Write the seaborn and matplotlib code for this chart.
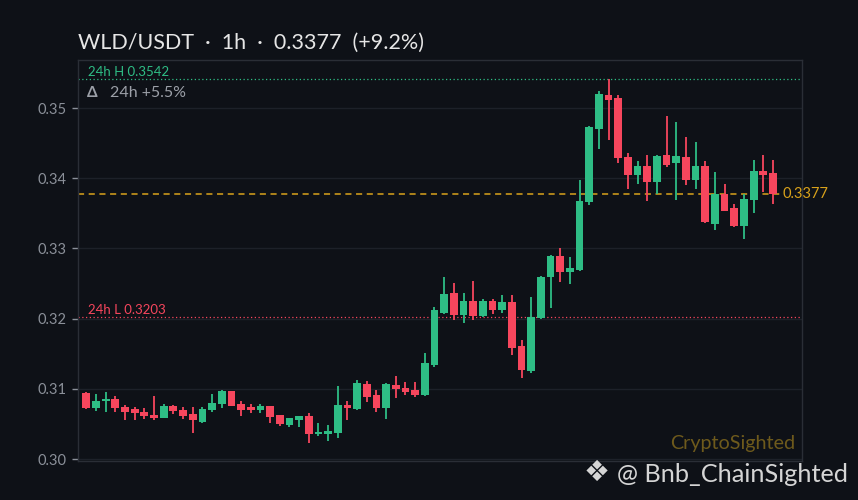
import numpy as np
import pandas as pd
import matplotlib
matplotlib.use("Agg")
import matplotlib.pyplot as plt
import seaborn as sns

# WLD/USDT 1h candles
opens = [0.3094, 0.3072, 0.3082, 0.3086, 0.3074, 0.3071, 0.3067, 0.3063, 0.3059, 0.3075,
         0.3070, 0.3064, 0.3053, 0.3070, 0.3079, 0.3097, 0.3078, 0.3074, 0.3070, 0.3075,
         0.3063, 0.3049, 0.3056, 0.3061, 0.3036, 0.3036, 0.3037, 0.3077, 0.3071, 0.3107,
         0.3091, 0.3073, 0.3105, 0.3101, 0.3098, 0.3091, 0.3134, 0.3208, 0.3236, 0.3205,
         0.3225, 0.3204, 0.3225, 0.3212, 0.3223, 0.3161, 0.3126, 0.3201, 0.3259, 0.3289,
         0.3266, 0.3269, 0.3366, 0.3470, 0.3519, 0.3514, 0.3430, 0.3405, 0.3417, 0.3395,
         0.3433, 0.3421, 0.3430, 0.3398, 0.3417, 0.3335, 0.3377, 0.3357, 0.3332, 0.3369,
         0.3410, 0.3407]
highs = [0.3095, 0.3093, 0.3095, 0.3090, 0.3077, 0.3074, 0.3072, 0.3090, 0.3078, 0.3077,
         0.3074, 0.3074, 0.3074, 0.3093, 0.3098, 0.3097, 0.3082, 0.3078, 0.3078, 0.3076,
         0.3063, 0.3058, 0.3061, 0.3066, 0.3051, 0.3048, 0.3104, 0.3083, 0.3113, 0.3111,
         0.3098, 0.3108, 0.3118, 0.3110, 0.3110, 0.3151, 0.3217, 0.3259, 0.3251, 0.3236,
         0.3254, 0.3228, 0.3228, 0.3233, 0.3233, 0.3170, 0.3231, 0.3261, 0.3291, 0.3300,
         0.3288, 0.3397, 0.3474, 0.3524, 0.3542, 0.3519, 0.3436, 0.3425, 0.3433, 0.3433,
         0.3488, 0.3480, 0.3459, 0.3452, 0.3424, 0.3409, 0.3392, 0.3363, 0.3377, 0.3426,
         0.3433, 0.3426]
lows = [0.3071, 0.3068, 0.3067, 0.3067, 0.3055, 0.3055, 0.3057, 0.3055, 0.3058, 0.3064,
        0.3057, 0.3037, 0.3051, 0.3067, 0.3073, 0.3076, 0.3061, 0.3066, 0.3066, 0.3052,
        0.3047, 0.3045, 0.3046, 0.3023, 0.3033, 0.3025, 0.3030, 0.3056, 0.3070, 0.3081,
        0.3067, 0.3057, 0.3087, 0.3091, 0.3088, 0.3090, 0.3131, 0.3207, 0.3198, 0.3194,
        0.3198, 0.3203, 0.3207, 0.3208, 0.3148, 0.3115, 0.3123, 0.3199, 0.3215, 0.3252,
        0.3249, 0.3268, 0.3362, 0.3442, 0.3454, 0.3422, 0.3385, 0.3392, 0.3368, 0.3377,
        0.3416, 0.3369, 0.3390, 0.3385, 0.3336, 0.3326, 0.3353, 0.3331, 0.3313, 0.3351,
        0.3381, 0.3363]
closes = [0.3072, 0.3082, 0.3086, 0.3072, 0.3067, 0.3065, 0.3062, 0.3059, 0.3075, 0.3069,
          0.3062, 0.3055, 0.3071, 0.3080, 0.3097, 0.3076, 0.3070, 0.3070, 0.3075, 0.3060,
          0.3050, 0.3058, 0.3061, 0.3036, 0.3038, 0.3040, 0.3077, 0.3073, 0.3108, 0.3088,
          0.3073, 0.3107, 0.3100, 0.3095, 0.3091, 0.3137, 0.3212, 0.3235, 0.3205, 0.3225,
          0.3204, 0.3225, 0.3212, 0.3223, 0.3158, 0.3127, 0.3202, 0.3259, 0.3289, 0.3266,
          0.3272, 0.3368, 0.3473, 0.3520, 0.3511, 0.3429, 0.3405, 0.3417, 0.3395, 0.3432,
          0.3419, 0.3432, 0.3398, 0.3417, 0.3337, 0.3377, 0.3354, 0.3332, 0.3370, 0.3410,
          0.3405, 0.3377]

yticks = [0.30, 0.31, 0.32, 0.33, 0.34, 0.35]
high_24h = 0.3542
low_24h = 0.3203
last_price = 0.3377

title = "WLD/USDT  ·  1h  ·  0.3377  (+9.2%)"
change_24h = "24h +5.5%"

UP = "#2ebd85"
DOWN = "#f6465d"
GOLD = "#d9a21b"
BG = "#0e1117"

df = pd.DataFrame({"open": opens, "high": highs, "low": lows, "close": closes})
df["x"] = np.arange(len(df))
df["up"] = df["close"] >= df["open"]
df["bottom"] = df[["open", "close"]].min(axis=1)
df["body"] = (df["close"] - df["open"]).abs().clip(lower=0.00006)

sns.set_theme(style="dark")
plt.rcParams["font.family"] = ["Lato", "DejaVu Sans"]

fig = plt.figure(figsize=(8.58, 5.0), dpi=100, facecolor=BG)
ax = fig.add_axes([78 / 858, 1 - 461 / 500, 724 / 858, 401 / 500])
ax.set_facecolor(BG)

colors = np.where(df["up"], UP, DOWN)
ax.vlines(df["x"], df["low"], df["high"], colors=colors, linewidth=1.3, zorder=3)
ax.bar(df["x"], df["body"], bottom=df["bottom"], width=0.8, color=colors,
       linewidth=0, zorder=4)

ax.set_xlim(-0.86, 74.0)
ax.set_ylim(0.29972, 0.35684)
ax.set_xticks([])
ax.set_yticks(yticks)
ax.set_yticklabels([f"{t:.2f}" for t in yticks])
ax.tick_params(axis="y", colors="#8b9099", labelsize=10.5, length=4, width=1,
               left=True, pad=4)
ax.grid(axis="y", color="#1d2129", linewidth=1)
ax.grid(axis="x", visible=False)
for s in ax.spines.values():
    s.set_visible(True)
    s.set_color("#2a2e36")
    s.set_linewidth(1)

# reference lines
ax.axhline(high_24h, color=UP, linestyle=(0, (1, 2)), linewidth=0.9, zorder=2)
ax.axhline(low_24h, color=DOWN, linestyle=(0, (1, 2)), linewidth=0.9, zorder=2)
ax.axhline(last_price, xmax=0.9696, color=GOLD, linestyle=(0, (4, 3)), linewidth=1.1, zorder=2)

ytr = ax.get_yaxis_transform()
ax.text(0.0138, high_24h + 0.0004, f"24h H {high_24h:.4f}", transform=ytr,
        color=UP, fontsize=9.5, va="baseline")
ax.text(0.0138, low_24h + 0.0004, f"24h L {low_24h:.4f}", transform=ytr,
        color=DOWN, fontsize=9.5, va="baseline")
ax.text(0.9724, last_price, f"{last_price:.4f}", transform=ytr, color=GOLD,
        fontsize=10.5, va="center", ha="left", clip_on=False)
ax.text(0.0124, 0.907, "Δ", transform=ax.transAxes, color="#9ca0a8",
        fontsize=11, fontweight="bold", va="baseline")
ax.text(0.0442, 0.907, change_24h, transform=ax.transAxes, color="#9ca0a8",
        fontsize=11.5, va="baseline")

fig.text(78 / 858, 1 - 48.5 / 500, title, color="#e6e6e6", fontsize=15.5,
         va="baseline", ha="left")
fig.text(795 / 858, 1 - 449 / 500, "CryptoSighted", color="#6e5a1c",
         fontsize=14.2, va="baseline", ha="right")
fig.text(597 / 858, 1 - 473 / 500, "❖", color="#d5d5d5", fontsize=21,
         va="center", ha="center", family=["DejaVu Sans"])
fig.text(848 / 858, 1 - 482 / 500, "@ Bnb_ChainSighted", color="#d5d5d5",
         fontsize=18.2, va="baseline", ha="right")

fig.savefig("out.png", dpi=100, facecolor=BG)
